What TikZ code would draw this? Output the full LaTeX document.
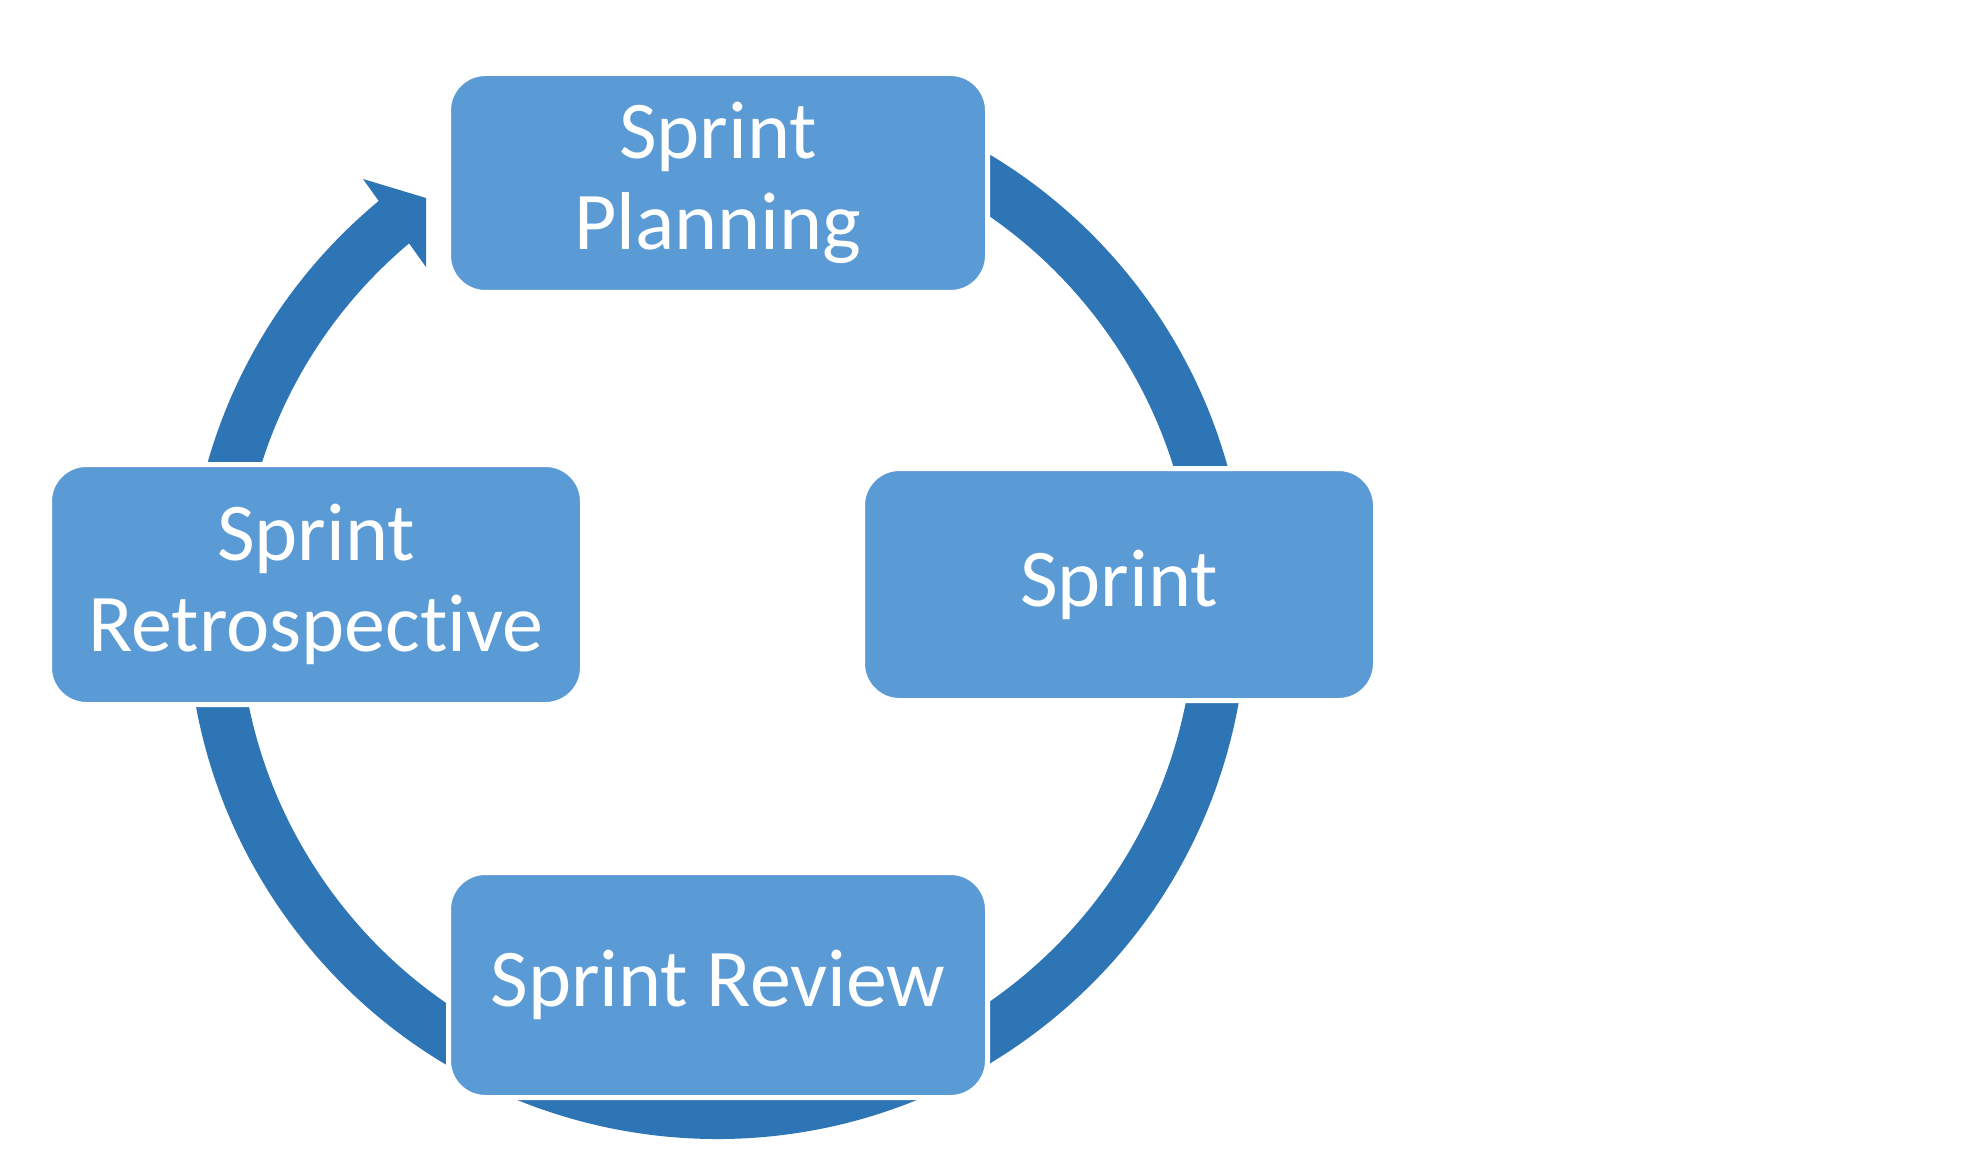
\documentclass[tikz,border=0pt]{standalone}
\usepackage{fontspec}
\setmainfont{Carlito}[Ligatures={NoCommon,NoContextual,NoRare,NoDiscretionary}]
\definecolor{boxblue}{HTML}{5B9BD5}
\definecolor{ringblue}{HTML}{2E75B6}
\begin{document}
\begin{tikzpicture}[x=1pt,y=-1pt,
  stage/.style={rounded corners=37pt, fill=boxblue, draw=white, line width=5pt,
    inner sep=0pt, text=white, align=center, font=\fontsize{82}{91}\selectfont},
  ring/.style={draw=ringblue, line width=52pt},
  ringhead/.style={fill=ringblue}]
\useasboundingbox[fill=white] (0,0) rectangle (1980,1155);
\coordinate (C) at (717,609);
% ring (cycle arrow) passing behind the stages
\draw[ring] (C) ++(232:504) arc[start angle=232, end angle=-90, radius=504];
% arrow head pointing at Sprint Planning
\coordinate (hb1) at (363,179);
\coordinate (tip) at (426,198);
\coordinate (hb2) at (426,267);
\fill[ringhead] (hb1) -- (tip) -- (hb2) -- cycle;
% stages
\node[stage, minimum width=539pt, minimum height=219pt] (plan) at (718,183) {Sprint\\Planning};
\node[stage, minimum width=513pt, minimum height=232pt] (sprint) at (1119,584.5) {Sprint};
\node[stage, minimum width=539pt, minimum height=225pt] (review) at (718,985) {Sprint Review};
\node[stage, minimum width=533pt, minimum height=240pt] (retro) at (316,584.5) {Sprint\\Retrospective};
\end{tikzpicture}
\end{document}
